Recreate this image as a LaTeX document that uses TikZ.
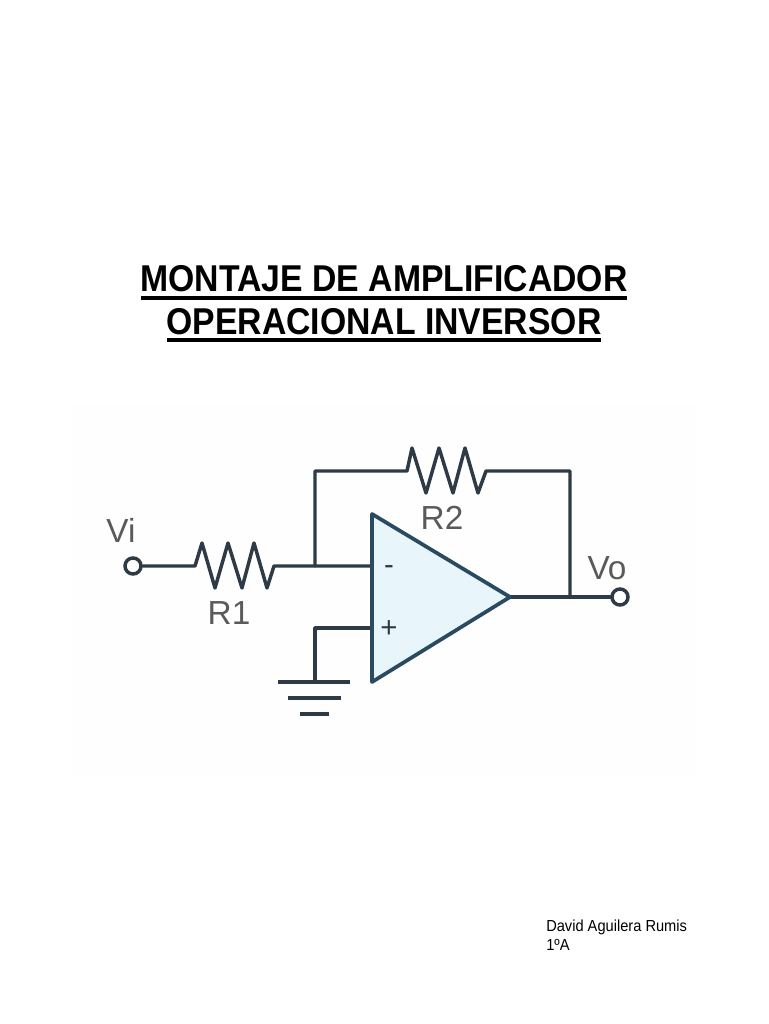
\documentclass[tikz,border=0pt]{standalone}
\usepackage{fontspec}
\setmainfont{Liberation Sans}
\newfontfamily\titlefont[FakeStretch=0.904]{Liberation Sans Bold}
\newfontfamily\authorfont[FakeStretch=0.915]{Liberation Sans}
\definecolor{wire}{HTML}{2E3A46}
\definecolor{ampfill}{HTML}{E8F5FB}
\definecolor{ampline}{HTML}{2A4A60}
\definecolor{lab}{HTML}{5A5A5A}
\definecolor{photo}{HTML}{FEFEFE}
\tikzset{
  wireline/.style={draw=wire,line width=2.6pt,line cap=round,line join=round},
  terminal/.style={circle,draw=wire,line width=2.6pt,fill=white,minimum size=12pt,inner sep=0pt},
  circlabel/.style={text=lab,font=\fontsize{25}{25}\selectfont,inner sep=0pt},
  signlabel/.style={text=wire,font=\fontsize{22}{22}\selectfont,inner sep=0pt},
  titletext/.style={font=\titlefont\fontsize{28}{28}\selectfont,inner sep=0pt,anchor=base,text=black},
  titlerule/.style={draw=black,line width=2.6pt},
  authortext/.style={font=\authorfont\fontsize{12}{12}\selectfont,inner sep=0pt,anchor=base west,text=black},
}
\begin{document}
\begin{tikzpicture}[x=0.75pt,y=-0.75pt]
\useasboundingbox (0,0) rectangle (768,1024);
\fill[white] (0,0) rectangle (768,1024);
\fill[photo] (72,405) rectangle (695,775);
% title
\node[titletext] (t1) at (384,291) {MONTAJE DE AMPLIFICADOR};
\node[titletext] (t2) at (384,334) {OPERACIONAL INVERSOR};
\coordinate (u1a) at (141,298); \coordinate (u1b) at (627,298);
\coordinate (u2a) at (167,340); \coordinate (u2b) at (601,340);
\draw[titlerule] (u1a) -- (u1b);
\draw[titlerule] (u2a) -- (u2b);
% author
\node[authortext] (a1) at (546,931.5) {David Aguilera Rumis};
\node[authortext] (a2) at (546,950) {1ºA};
% op amp
\coordinate (ampT) at (372,514);
\coordinate (ampB) at (372,682);
\coordinate (ampO) at (510,597);
\coordinate (ampM) at (372,566);
\coordinate (ampP) at (372,628);
\fill[ampfill] (ampT) -- (ampO) -- (ampB) -- cycle;
% nodes
\node[terminal] (vi) at (133,566) {};
\node[terminal] (vo) at (620,597) {};
\coordinate (r1a) at (195,566);
\coordinate (r1b) at (274,566);
\coordinate (j1) at (315,566);
\coordinate (c1) at (315,471);
\coordinate (r2a) at (407,471);
\coordinate (r2b) at (486,471);
\coordinate (c2) at (570,471);
\coordinate (j2) at (570,597);
\coordinate (c3) at (315,628);
\coordinate (g0) at (315,682);
% wires
\draw[wireline] (vi) -- (r1a) -- (202,543) -- (215,588) -- (228,543) -- (242,588) -- (254,543) -- (267,588) -- (r1b) -- (j1) -- (ampM);
\draw[wireline] (j1) -- (c1) -- (r2a) -- (412,448) -- (426,493) -- (439,448) -- (453,493) -- (465,448) -- (478,493) -- (r2b) -- (c2) -- (j2);
\draw[wireline] (ampO) -- (j2) -- (vo);
\draw[wireline] (ampP) -- (c3) -- (g0);
\draw[wireline,line cap=butt] (278,682) -- (350,682);
\draw[wireline,line cap=butt] (288,698) -- (341,698);
\draw[wireline,line cap=butt] (300,714) -- (329,714);
\draw[draw=ampline,line width=2.8pt,line join=round] (ampT) -- (ampO) -- (ampB) -- cycle;
% labels
\node[circlabel] (lvi) at (121,530) {Vi};
\node[circlabel] (lr1) at (229,613) {R1};
\node[circlabel] (lr2) at (442,518) {R2};
\node[circlabel] (lvo) at (607,568) {Vo};
\node[signlabel] (lm) at (389,570) {-};
\node[signlabel] (lp) at (389,629) {+};
\end{tikzpicture}
\end{document}
